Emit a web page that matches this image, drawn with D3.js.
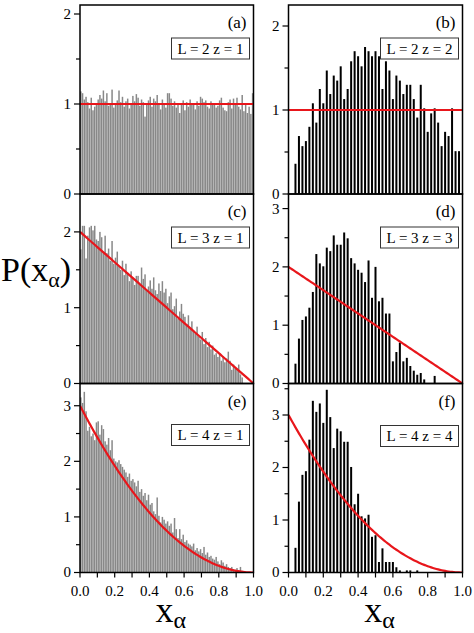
<!DOCTYPE html>
<html><head><meta charset="utf-8">
<script src="https://cdn.jsdelivr.net/npm/d3@7"></script>
<style>body{margin:0;background:#fff}svg{display:block}</style>
</head><body><svg id="c" width="474" height="633" font-family="Liberation Serif, 'Times New Roman', 'DejaVu Serif', serif"></svg>
<script>
// ---- data ----
const panelLetters = ["a","b","c","d","e","f"];
const panelL = [2,2,3,3,4,4];
const panelZ = [1,2,1,3,1,4];
const yMaxes = [2.1,2.25,2.5,3.25,3.4,3.6];
const yTickMaxes = [2,2,2,3,3,3];
const xTickLabels = ["0.0","0.2","0.4","0.6","0.8","1.0"];

// left column: 100 bins of width 0.01 starting at 0
const histA = [1.14,1.12,1.05,1.08,1.02,0.95,1.07,0.93,0.97,1.00,
1.05,1.10,1.06,1.15,1.03,1.12,0.98,1.01,1.16,0.96,
0.99,1.04,1.15,1.02,1.08,0.97,1.03,1.06,0.95,1.01,
1.09,1.03,1.11,1.07,0.98,1.05,1.02,0.86,1.00,1.04,
1.08,0.97,1.06,1.03,1.10,1.00,0.94,1.05,1.01,0.96,
1.12,1.12,1.06,0.98,1.03,0.96,1.01,0.90,0.99,1.04,
0.93,1.02,0.97,1.05,0.99,1.01,0.94,1.03,0.98,1.08,
1.06,1.02,1.04,0.97,0.95,1.03,0.99,1.01,0.96,0.98,
1.04,1.07,0.96,0.93,0.92,1.02,1.05,0.95,1.06,0.99,
1.07,0.97,0.94,1.10,0.92,1.01,0.90,0.97,0.89,1.12];
const histC = [1.77,2.08,2.08,1.65,1.95,2.06,2.08,2.02,2.08,1.90,
1.88,2.00,1.93,1.72,1.95,1.72,1.78,1.62,1.88,1.58,
1.66,1.74,1.55,1.50,1.62,1.43,1.58,1.46,1.35,1.48,
1.38,1.30,1.42,1.42,1.30,1.53,1.38,1.44,1.22,1.28,
1.36,1.25,1.40,1.23,1.18,1.32,1.22,1.35,1.20,1.25,
1.06,1.15,1.20,0.98,1.02,1.12,0.85,0.95,1.05,0.92,
0.88,0.78,0.90,0.72,0.82,0.70,0.66,0.75,0.62,0.58,
0.68,0.52,0.60,0.48,0.55,0.45,0.50,0.38,0.40,0.35,
0.40,0.30,0.36,0.28,0.33,0.42,0.30,0.18,0.25,0.20,
0.18,0.25,0.12,0.08,0,0,0,0,0,0];
const histE = [3.15,3.05,3.25,2.90,2.55,2.62,2.45,2.50,2.38,2.70,
2.72,2.48,2.65,2.58,2.36,2.30,2.42,2.20,2.38,2.05,
2.00,1.98,2.02,1.95,1.90,1.85,1.80,1.72,1.78,1.65,
1.68,1.62,1.55,1.65,1.45,1.50,1.38,1.43,1.30,1.40,
1.22,1.25,1.10,1.05,1.35,1.02,0.90,1.00,0.95,0.88,
0.92,0.84,0.88,0.72,0.98,0.78,0.62,0.78,0.60,0.68,
0.55,0.58,0.52,0.50,0.47,0.52,0.40,0.44,0.38,0.42,
0.35,0.46,0.32,0.36,0.28,0.30,0.25,0.23,0.28,0.20,
0.15,0.22,0.18,0.12,0.15,0.10,0.08,0.10,0.06,0.05,
0.08,0.04,0.10,0.03,0,0,0,0,0,0];

// right column: 48 bars centred at 0.04, 0.06, ..., 0.98
const histB = [0.36,0.69,0.57,0.63,0.80,1.08,0.85,1.25,1.08,1.47,
1.19,1.41,1.35,1.52,1.13,1.25,1.58,1.70,1.64,1.52,
1.75,1.70,1.64,1.70,1.64,1.25,1.58,1.47,1.13,1.41,
1.35,1.19,1.30,1.30,1.13,0.91,1.30,1.02,0.74,0.96,
1.02,0.85,0.57,0.74,0.69,1.02,0.51,0.51];
const histD = [0.34,0.77,1.09,1.15,1.30,1.57,2.22,2.06,2.01,2.33,
2.27,2.54,2.38,2.38,2.59,2.49,2.15,2.06,1.95,1.90,
1.74,2.11,1.47,2.00,1.41,1.47,1.20,1.20,0.38,0.54,
0.70,0.38,0.44,0.30,0.22,0.15,0.18,0.07,0,0,
0.13,0,0,0,0,0,0,0];
const histF = [0.47,1.35,1.86,1.93,2.53,3.27,3.06,3.22,2.85,3.48,
2.96,2.37,2.74,2.69,2.49,2.49,2.01,1.30,1.50,1.07,
1.03,1.10,0.68,0.71,0.20,0.46,0.20,0.20,0.20,0.10,
0.04,0,0.04,0.04,0,0.04,0,0,0,0,
0,0,0,0,0,0,0,0];

const hists = [histA,histB,histC,histD,histE,histF];

// ---- layout ----
const svg = d3.select("#c");
const colX = [[80,253.5],[288.5,462.5]];
const rowY = [[5,194],[194,383.5],[383.5,572.5]];
const boxTop = [33,33,33,33,41,42];
const red = "#e8161b";

hists.forEach((vals,p)=>{
  const col = p%2, row = Math.floor(p/2);
  const [x0,x1] = colX[col], [y0,y1] = rowY[row];
  const x = d3.scaleLinear().domain([0,1]).range([x0,x1]);
  const y = d3.scaleLinear().domain([0,yMaxes[p]]).range([y1,y0]);
  const g = svg.append("g");
  g.append("clipPath").attr("id","cp"+p).append("rect")
    .attr("x",x0).attr("y",y0).attr("width",x1-x0).attr("height",y1-y0);
  const bars = g.append("g").attr("clip-path",`url(#cp${p})`);
  if(col===0){
    const bw = x(0.01)-x(0);
    bars.selectAll("rect").data(vals).join("rect")
      .attr("x",(d,i)=>x(i*0.01)+0.1)
      .attr("width",bw-0.25)
      .attr("y",d=>y(d)).attr("height",d=>y(0)-y(d))
      .attr("fill","#888888");
  } else {
    bars.selectAll("rect").data(vals).join("rect")
      .attr("x",(d,i)=>x(0.04+0.02*i)-1)
      .attr("width",2)
      .attr("y",d=>y(d)).attr("height",d=>y(0)-y(d))
      .attr("fill","#000");
  }
  // theory curve
  const L = panelL[p];
  const pts = d3.range(0,1.0001,0.01);
  bars.append("path").datum(pts)
    .attr("d",d3.line().x(d=>x(d)).y(d=>y((L-1)*Math.pow(1-d,L-2))))
    .attr("fill","none").attr("stroke",red).attr("stroke-width",2.2);

  // frame
  g.append("rect").attr("x",x0).attr("y",y0).attr("width",x1-x0).attr("height",y1-y0)
    .attr("fill","none").attr("stroke","#000").attr("stroke-width",1.5);

  // y axis
  const yt = d3.range(0,yTickMaxes[p]+1);
  const ym = d3.range(0.5,yMaxes[p],1);
  g.selectAll(".ymaj").data(yt).join("line")
    .attr("x1",x0-6).attr("x2",x0).attr("y1",d=>y(d)).attr("y2",d=>y(d))
    .attr("stroke","#000").attr("stroke-width",1.2);
  g.selectAll(".ymin").data(ym).join("line")
    .attr("x1",x0-4).attr("x2",x0).attr("y1",d=>y(d)).attr("y2",d=>y(d))
    .attr("stroke","#000").attr("stroke-width",1.2);
  g.selectAll(".ylab").data(yt).join("text")
    .attr("x",x0-9).attr("y",d=>y(d)).attr("dy","0.33em")
    .attr("text-anchor","end").attr("font-size",15).text(d=>d);

  // x ticks on bottom row
  if(row===2){
    const xt = d3.range(0,11).map(i=>i/10);
    g.selectAll(".xt").data(xt).join("line")
      .attr("x1",d=>x(d)).attr("x2",d=>x(d)).attr("y1",y1).attr("y2",y1+5)
      .attr("stroke","#000").attr("stroke-width",1.2);
    g.selectAll(".xl").data(xTickLabels).join("text")
      .attr("x",(d,i)=>x(i*0.2)).attr("y",y1+23)
      .attr("text-anchor","middle").attr("font-size",15).text(d=>d);
    const xl = g.append("text").attr("x",(x0+x1)/2+4).attr("y",622)
      .attr("text-anchor","middle").attr("font-size",36);
    xl.append("tspan").text("x");
    xl.append("tspan").attr("font-size",24).attr("dy",6).text("α");
  }

  // panel letter and box
  g.append("text").attr("x",x1-7).attr("y",y0+23).attr("text-anchor","end")
    .attr("font-size",17).text(`(${panelLetters[p]})`);
  const bx1 = x1-4, bx0 = bx1-78, by0 = y0+boxTop[p];
  g.append("rect").attr("x",bx0).attr("y",by0).attr("width",78).attr("height",21)
    .attr("fill","#fff").attr("stroke","#333").attr("stroke-width",1);
  g.append("text").attr("x",(bx0+bx1)/2).attr("y",by0+15.5).attr("text-anchor","middle")
    .attr("font-size",15).text(`L = ${panelL[p]} z = ${panelZ[p]}`);
});

// y label
const pl = svg.append("text").attr("x",1).attr("y",281).attr("font-size",34);
pl.append("tspan").text("P(x");
pl.append("tspan").attr("font-size",22).attr("dy",6).text("α");
pl.append("tspan").attr("dy",-6).text(")");
</script></body></html>
